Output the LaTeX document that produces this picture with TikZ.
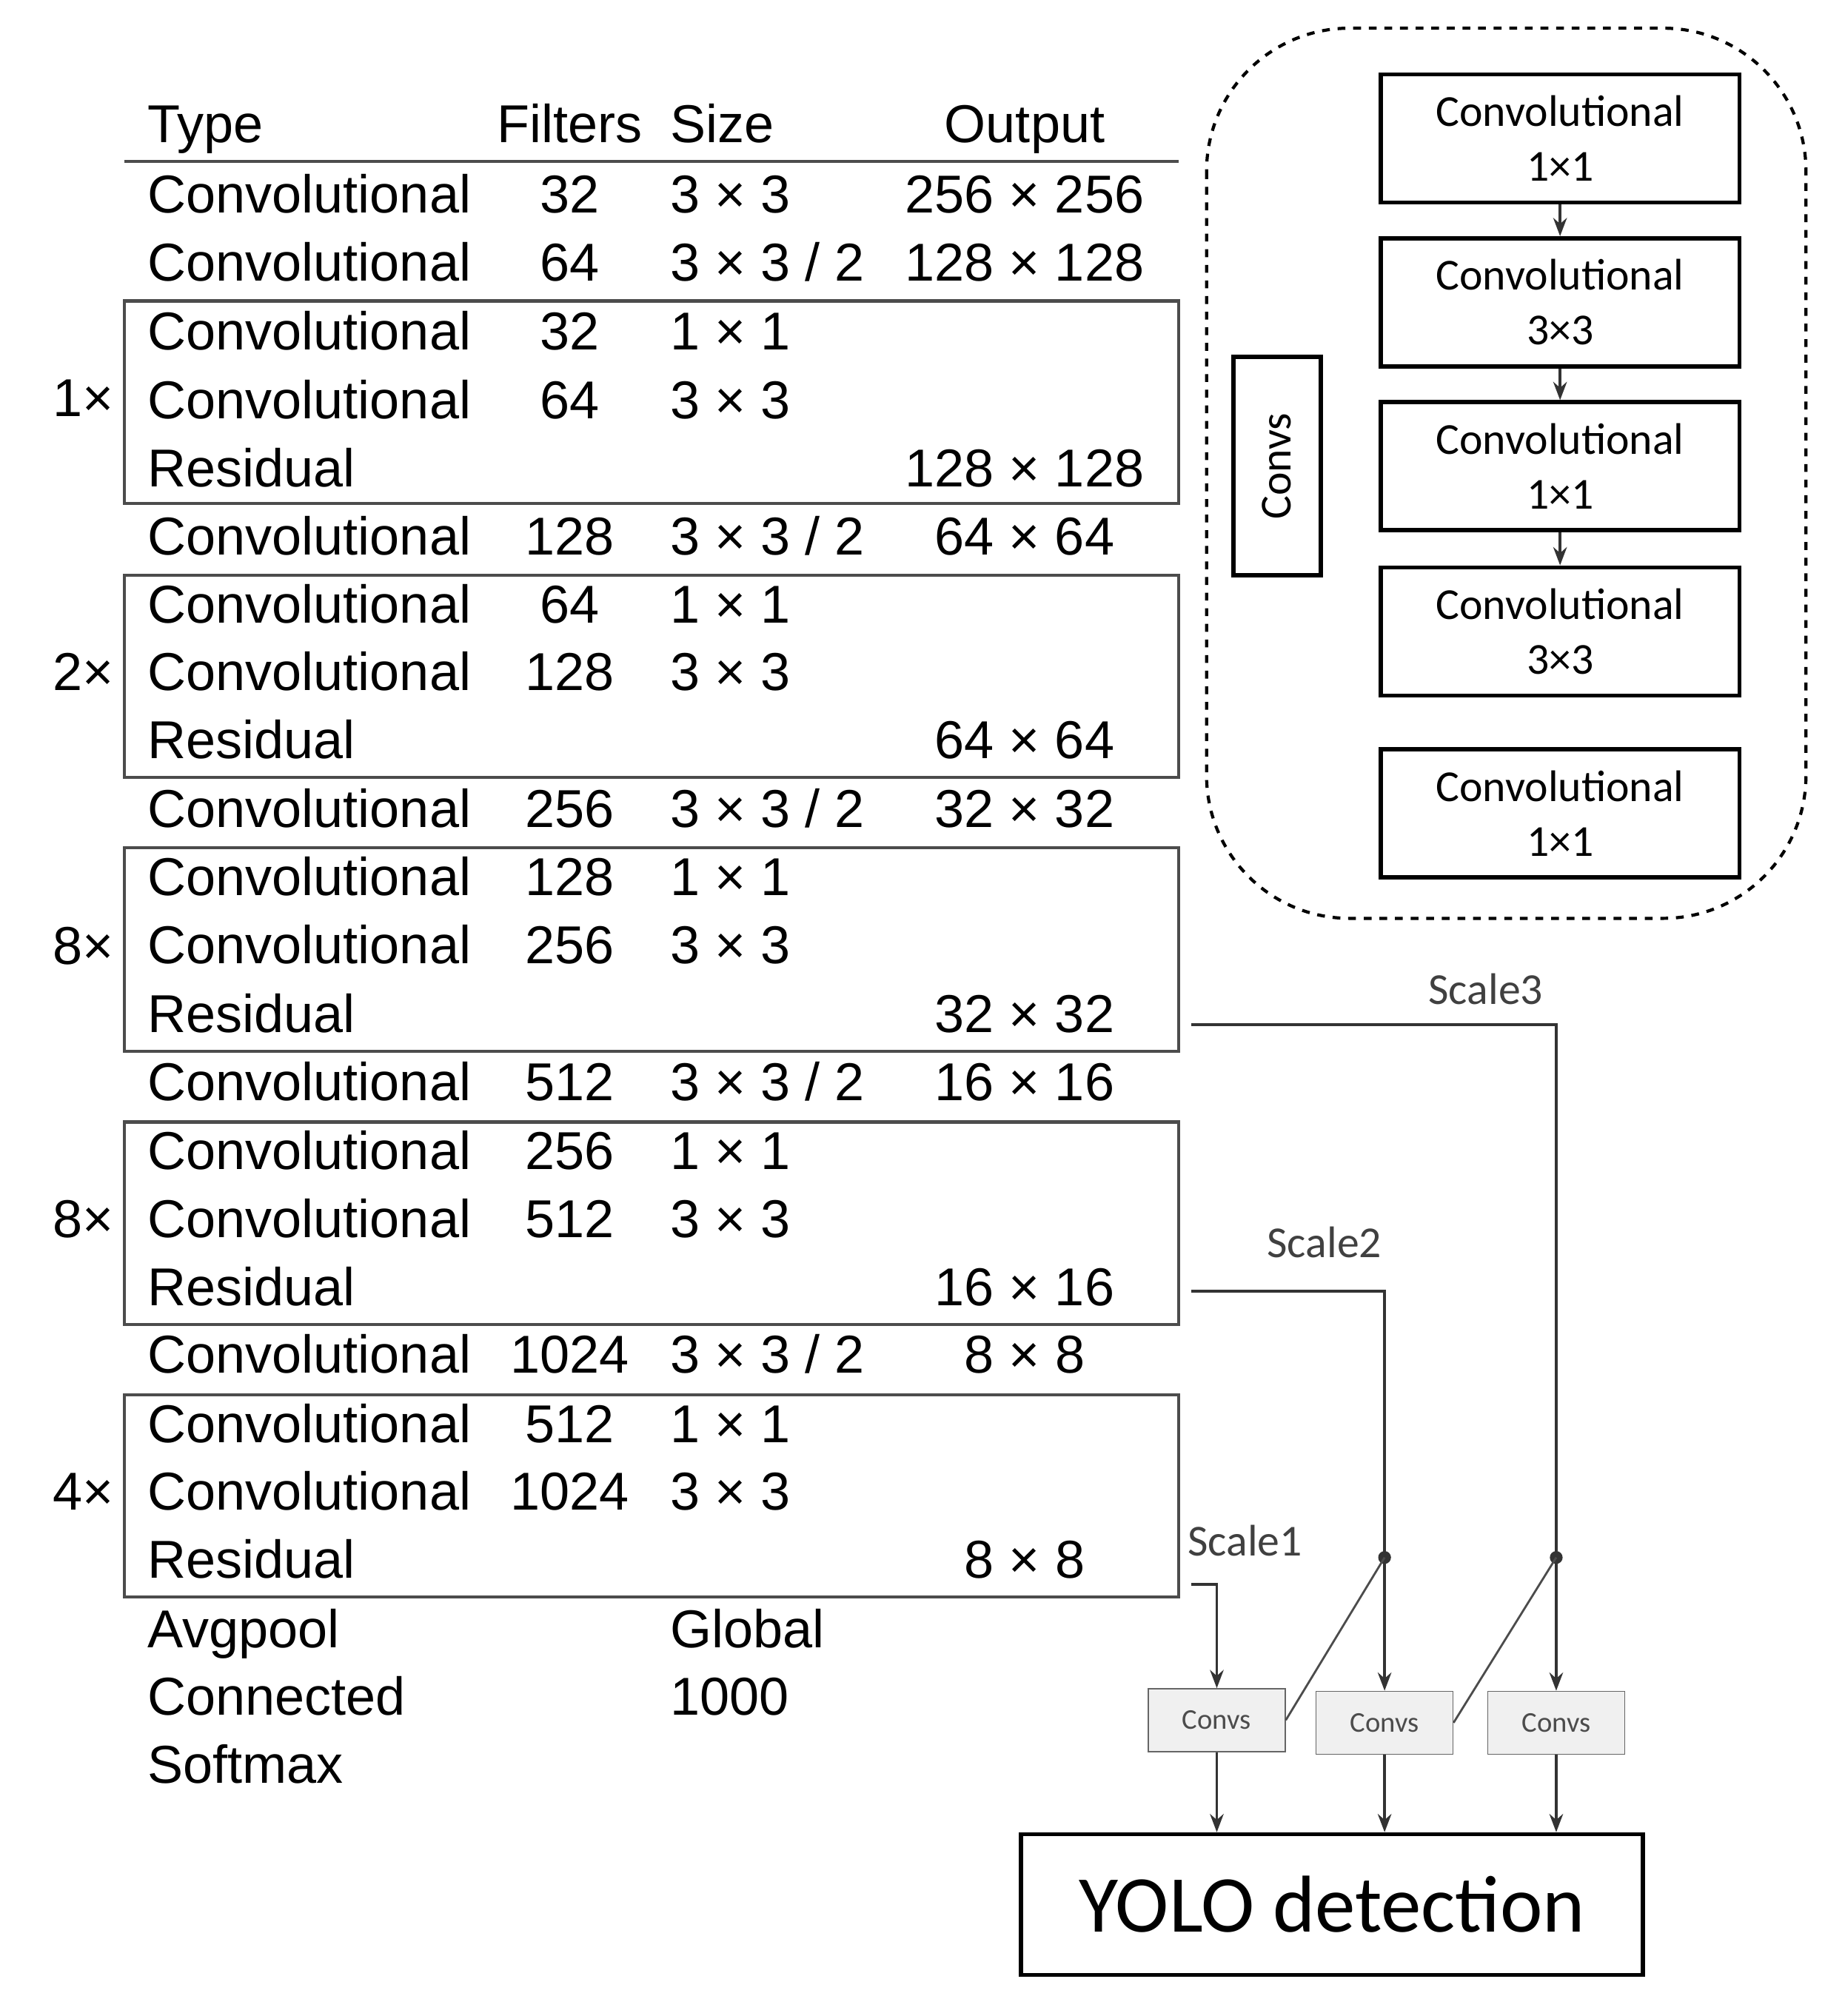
\documentclass[tikz,border=0pt]{standalone}
\usepackage{fontspec}
\setmainfont{Liberation Sans}
\newfontfamily\calib{Carlito}
\usetikzlibrary{arrows.meta}
\begin{document}
\begin{tikzpicture}[x=0.01731cm,y=-0.01731cm,
    cell/.style={inner sep=0pt,text height=15pt,text depth=4pt,font=\fontsize{20.5}{22}\selectfont},
    grp/.style={draw=black!70,line width=1.2pt},
    blk/.style={draw,line width=1.6pt,minimum width=4.85cm,minimum height=1.73cm,align=center,font=\calib\fontsize{17}{21}\selectfont},
    small/.style={draw=black!60,fill=black!6,minimum width=1.85cm,minimum height=0.85cm,font=\calib\fontsize{11}{12}\selectfont\color{black!70}},
    lbl/.style={font=\calib\fontsize{17}{20}\selectfont\color{black!75}},
    arr/.style={-{Stealth[length=7pt]},line width=1pt,draw=black!80}]
    \useasboundingbox (0,0) rectangle (1440,1574);

    % table header
    \node [cell,anchor=west] at (115,100) {Type};
    \node [cell] at (445,100) {Filters};
    \node [cell,anchor=west] at (523,100) {Size};
    \node [cell] at (800,100) {Output};
    \draw [line width=1.4pt,black!70] (97,126) -- (920,126);

    % table rows
    \foreach \y/\t/\f/\s/\o in {
        155/Convolutional/32/3 × 3/256 × 256,
        208/Convolutional/64/{3 × 3 / 2}/128 × 128,
        262/Convolutional/32/1 × 1/,
        316/Convolutional/64/3 × 3/,
        369/Residual///128 × 128,
        422/Convolutional/128/{3 × 3 / 2}/64 × 64,
        475/Convolutional/64/1 × 1/,
        528/Convolutional/128/3 × 3/,
        581/Residual///64 × 64,
        635/Convolutional/256/{3 × 3 / 2}/32 × 32,
        688/Convolutional/128/1 × 1/,
        741/Convolutional/256/3 × 3/,
        795/Residual///32 × 32,
        848/Convolutional/512/{3 × 3 / 2}/16 × 16,
        902/Convolutional/256/1 × 1/,
        955/Convolutional/512/3 × 3/,
        1008/Residual///16 × 16,
        1061/Convolutional/1024/{3 × 3 / 2}/8 × 8,
        1115/Convolutional/512/1 × 1/,
        1168/Convolutional/1024/3 × 3/,
        1221/Residual///8 × 8,
        1275/Avgpool//Global/,
        1328/Connected//1000/,
        1381/Softmax///}{
        \node [cell,anchor=west] at (115,\y) {\t};
        \node [cell] at (445,\y) {\f};
        \node [cell,anchor=west] at (523,\y) {\s};
        \node [cell] at (800,\y) {\o};
    }

    % residual groups
    \foreach \top/\bot/\m in {235/393/1, 449/607/2, 662/821/8, 876/1034/8, 1089/1247/4}{
        \draw [grp] (97,\top) rectangle (920,\bot);
        \node [cell] at (65,{(\top+\bot)/2}) {\m×};
    }

    % convs detail
    \draw [dashed,line width=1.2pt,rounded corners=55] (942,22) rectangle (1410,717);
    \node [draw,line width=1.6pt,minimum width=2.95cm,minimum height=1.18cm,rotate=90,font=\calib\fontsize{17}{20}\selectfont] (cv) at (997,364) {Convs};
    \node [blk] (c1) at (1218,108) {Convolutional\\1×1};
    \node [blk] (c2) at (1218,236) {Convolutional\\3×3};
    \node [blk] (c3) at (1218,364) {Convolutional\\1×1};
    \node [blk] (c4) at (1218,493) {Convolutional\\3×3};
    \node [blk] (c5) at (1218,635) {Convolutional\\1×1};
    \draw [arr] (c1) -- (c2);
    \draw [arr] (c2) -- (c3);
    \draw [arr] (c3) -- (c4);

    % scales
    \node [small] (s1) at (950,1343) {Convs};
    \node [small] (s2) at (1081,1345) {Convs};
    \node [small] (s3) at (1215,1345) {Convs};
    \node [draw,line width=1.6pt,minimum width=8.4cm,minimum height=1.9cm,font=\calib\fontsize{31}{36}\selectfont] (yolo) at (1040,1487) {YOLO detection};
    \coordinate (p3) at (930,800);
    \coordinate (p2) at (930,1008);
    \coordinate (p1) at (930,1237);
    \coordinate (d3) at (1215,1216);
    \coordinate (d2) at (1081,1216);
    \fill [black!80] (d3) circle (5) (d2) circle (5);
    \draw [black!80,line width=1pt] (p3) -| (d3);
    \draw [black!80,line width=1pt] (p2) -| (d2);
    \draw [arr] (p1) -| (s1.north);
    \draw [arr] (d2) -- (s2.north);
    \draw [arr] (d3) -- (s3.north);
    \draw [black!70,line width=0.8pt] (d2) -- (s1.east);
    \draw [black!70,line width=0.8pt] (d3) -- (s2.east);
    \node [lbl] at (1160,772) {Scale3};
    \node [lbl] at (1034,970) {Scale2};
    \node [lbl] at (972,1203) {Scale1};
    \draw [arr] (s1.south) -- (s1.south |- yolo.north);
    \draw [arr] (s2.south) -- (s2.south |- yolo.north);
    \draw [arr] (s3.south) -- (s3.south |- yolo.north);
\end{tikzpicture}
\end{document}
